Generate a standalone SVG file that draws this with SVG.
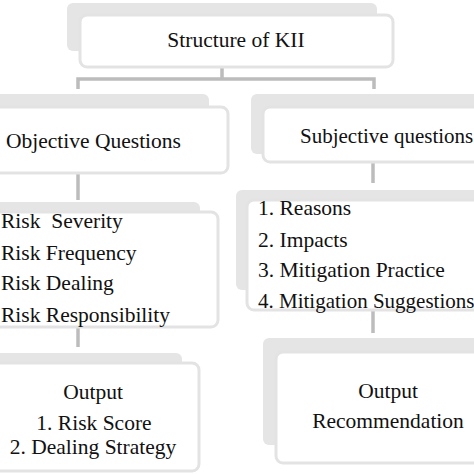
<svg xmlns="http://www.w3.org/2000/svg" width="474" height="474" viewBox="0 0 474 474">
<style>
.back{fill:#e5e5e5;stroke:none}
.front{fill:#ffffff;stroke:#e3e3e3;stroke-width:3}
.conn{fill:none;stroke:#bcbcbc;stroke-width:3.5}
text{font-family:"Liberation Serif","Times New Roman",serif;font-size:21.5px;fill:#111111}
.c{text-anchor:middle}
.fit{font-size:21px}
</style>
<rect width="474" height="474" fill="#ffffff"/>
<g id="connectors">
<path class="conn" d="M222,60 V79 M78,89 V79 H374 V89"/>
<path class="conn" d="M78,173 V200"/>
<path class="conn" d="M373,162 V183"/>
<path class="conn" d="M78,327 V347"/>
<path class="conn" d="M373,310 V333"/>
</g>
<g id="node-structure">
<rect class="back" x="67" y="3" width="310" height="48" rx="6"/>
<rect class="front" x="80" y="15" width="313" height="52" rx="7"/>
<text class="c" x="236" y="47">Structure of KII</text>
</g>
<g id="node-objective">
<rect class="back" x="-10" y="94" width="219" height="66" rx="6"/>
<rect class="front" x="-10" y="107" width="238" height="66" rx="7"/>
<text x="6" y="148">Objective Questions</text>
</g>
<g id="node-subjective">
<rect class="back" x="251" y="94" width="240" height="60" rx="6"/>
<rect class="front" x="263" y="107" width="230" height="55" rx="7"/>
<text class="fit" x="300" y="143">Subjective questions</text>
</g>
<g id="node-objective-list">
<rect class="back" x="-10" y="202" width="210" height="110" rx="6"/>
<rect class="front" x="-10" y="212" width="228" height="115" rx="7"/>
<text x="1" y="228" xml:space="preserve">Risk  Severity</text>
<text x="1" y="260">Risk Frequency</text>
<text x="1" y="290">Risk Dealing</text>
<text x="1" y="322">Risk Responsibility</text>
</g>
<g id="node-subjective-list">
<rect class="back" x="236" y="190" width="250" height="100" rx="6"/>
<rect class="front" x="247" y="200" width="240" height="110" rx="7"/>
<text x="258" y="215">1. Reasons</text>
<text x="258" y="247">2. Impacts</text>
<text x="258" y="277">3. Mitigation Practice</text>
<text class="fit" x="258" y="308">4. Mitigation Suggestions</text>
</g>
<g id="node-output-left">
<rect class="back" x="-10" y="353" width="192" height="100" rx="6"/>
<rect class="front" x="-10" y="363" width="209" height="108" rx="7"/>
<text class="c" x="93" y="399">Output</text>
<text class="c" x="94" y="430">1. Risk Score</text>
<text class="c" x="93" y="454">2. Dealing Strategy</text>
</g>
<g id="node-output-right">
<rect class="back" x="263" y="338" width="230" height="107" rx="6"/>
<rect class="front" x="276" y="352" width="220" height="111" rx="7"/>
<text class="c" x="388" y="398">Output</text>
<text class="c" x="388" y="428">Recommendation</text>
</g>
</svg>
